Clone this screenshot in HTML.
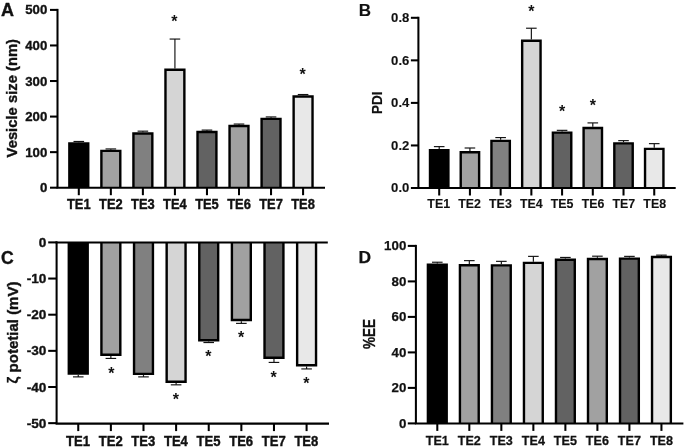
<!DOCTYPE html>
<html><head><meta charset="utf-8"><title>Figure</title>
<style>html,body{margin:0;padding:0;background:#fff;}svg{display:block}text{font-family:'Liberation Sans', Arial, Helvetica, sans-serif;fill:#111;stroke:#111;stroke-width:0.35px}.pB text{stroke-width:0.12px}.pD text{stroke-width:0.25px}</style>
</head><body>
<svg width="685" height="448" viewBox="0 0 685 448">
<rect width="685" height="448" fill="#fff"/>
<g class="pA">
<line x1="78.80" y1="142.18" x2="78.80" y2="141.47" stroke="#111" stroke-width="1.15"/>
<line x1="73.50" y1="141.47" x2="84.10" y2="141.47" stroke="#111" stroke-width="1.15"/>
<path d="M69.35 187.70L69.35 143.38L88.25 143.38L88.25 187.70" fill="#000000" stroke="#000" stroke-width="2.4" stroke-linejoin="miter"/>
<line x1="110.84" y1="149.65" x2="110.84" y2="148.94" stroke="#111" stroke-width="1.15"/>
<line x1="105.54" y1="148.94" x2="116.14" y2="148.94" stroke="#111" stroke-width="1.15"/>
<path d="M101.39 187.70L101.39 150.85L120.29 150.85L120.29 187.70" fill="#a1a1a1" stroke="#000" stroke-width="2.4" stroke-linejoin="miter"/>
<line x1="142.88" y1="132.23" x2="142.88" y2="131.16" stroke="#111" stroke-width="1.15"/>
<line x1="137.58" y1="131.16" x2="148.18" y2="131.16" stroke="#111" stroke-width="1.15"/>
<path d="M133.43 187.70L133.43 133.43L152.33 133.43L152.33 187.70" fill="#808080" stroke="#000" stroke-width="2.4" stroke-linejoin="miter"/>
<line x1="174.92" y1="68.57" x2="174.92" y2="39.06" stroke="#111" stroke-width="1.15"/>
<line x1="169.62" y1="39.06" x2="180.22" y2="39.06" stroke="#111" stroke-width="1.15"/>
<path d="M165.47 187.70L165.47 69.77L184.37 69.77L184.37 187.70" fill="#d5d5d5" stroke="#000" stroke-width="2.4" stroke-linejoin="miter"/>
<line x1="206.96" y1="130.80" x2="206.96" y2="130.09" stroke="#111" stroke-width="1.15"/>
<line x1="201.66" y1="130.09" x2="212.26" y2="130.09" stroke="#111" stroke-width="1.15"/>
<path d="M197.51 187.70L197.51 132.00L216.41 132.00L216.41 187.70" fill="#626262" stroke="#000" stroke-width="2.4" stroke-linejoin="miter"/>
<line x1="239.00" y1="124.76" x2="239.00" y2="124.05" stroke="#111" stroke-width="1.15"/>
<line x1="233.70" y1="124.05" x2="244.30" y2="124.05" stroke="#111" stroke-width="1.15"/>
<path d="M229.55 187.70L229.55 125.96L248.45 125.96L248.45 187.70" fill="#a1a1a1" stroke="#000" stroke-width="2.4" stroke-linejoin="miter"/>
<line x1="271.04" y1="117.65" x2="271.04" y2="116.94" stroke="#111" stroke-width="1.15"/>
<line x1="265.74" y1="116.94" x2="276.34" y2="116.94" stroke="#111" stroke-width="1.15"/>
<path d="M261.59 187.70L261.59 118.85L280.49 118.85L280.49 187.70" fill="#626262" stroke="#000" stroke-width="2.4" stroke-linejoin="miter"/>
<line x1="303.08" y1="95.24" x2="303.08" y2="94.53" stroke="#111" stroke-width="1.15"/>
<line x1="297.78" y1="94.53" x2="308.38" y2="94.53" stroke="#111" stroke-width="1.15"/>
<path d="M293.63 187.70L293.63 96.44L312.53 96.44L312.53 187.70" fill="#e8e8e8" stroke="#000" stroke-width="2.4" stroke-linejoin="miter"/>
<line x1="57.50" y1="8.88" x2="57.50" y2="187.70" stroke="#000" stroke-width="2.05"/>
<line x1="56.48" y1="187.70" x2="325.00" y2="187.70" stroke="#000" stroke-width="2.05"/>
<line x1="50.00" y1="187.70" x2="57.50" y2="187.70" stroke="#000" stroke-width="2.05"/>
<text x="47.30" y="192.20" font-size="13.2" font-weight="bold" text-anchor="end">0</text>
<line x1="50.00" y1="152.14" x2="57.50" y2="152.14" stroke="#000" stroke-width="2.05"/>
<text x="47.30" y="156.64" font-size="13.2" font-weight="bold" text-anchor="end">100</text>
<line x1="50.00" y1="116.58" x2="57.50" y2="116.58" stroke="#000" stroke-width="2.05"/>
<text x="47.30" y="121.08" font-size="13.2" font-weight="bold" text-anchor="end">200</text>
<line x1="50.00" y1="81.02" x2="57.50" y2="81.02" stroke="#000" stroke-width="2.05"/>
<text x="47.30" y="85.52" font-size="13.2" font-weight="bold" text-anchor="end">300</text>
<line x1="50.00" y1="45.46" x2="57.50" y2="45.46" stroke="#000" stroke-width="2.05"/>
<text x="47.30" y="49.96" font-size="13.2" font-weight="bold" text-anchor="end">400</text>
<line x1="50.00" y1="9.90" x2="57.50" y2="9.90" stroke="#000" stroke-width="2.05"/>
<text x="47.30" y="14.40" font-size="13.2" font-weight="bold" text-anchor="end">500</text>
<line x1="78.80" y1="187.70" x2="78.80" y2="195.20" stroke="#000" stroke-width="2.05"/>
<text x="78.80" y="209.50" font-size="12.9" font-weight="bold" text-anchor="middle" transform="translate(78.80 209.50) scale(1 1.07) translate(-78.80 -209.50)">TE1</text>
<line x1="110.84" y1="187.70" x2="110.84" y2="195.20" stroke="#000" stroke-width="2.05"/>
<text x="110.84" y="209.50" font-size="12.9" font-weight="bold" text-anchor="middle" transform="translate(110.84 209.50) scale(1 1.07) translate(-110.84 -209.50)">TE2</text>
<line x1="142.88" y1="187.70" x2="142.88" y2="195.20" stroke="#000" stroke-width="2.05"/>
<text x="142.88" y="209.50" font-size="12.9" font-weight="bold" text-anchor="middle" transform="translate(142.88 209.50) scale(1 1.07) translate(-142.88 -209.50)">TE3</text>
<line x1="174.92" y1="187.70" x2="174.92" y2="195.20" stroke="#000" stroke-width="2.05"/>
<text x="174.92" y="209.50" font-size="12.9" font-weight="bold" text-anchor="middle" transform="translate(174.92 209.50) scale(1 1.07) translate(-174.92 -209.50)">TE4</text>
<line x1="206.96" y1="187.70" x2="206.96" y2="195.20" stroke="#000" stroke-width="2.05"/>
<text x="206.96" y="209.50" font-size="12.9" font-weight="bold" text-anchor="middle" transform="translate(206.96 209.50) scale(1 1.07) translate(-206.96 -209.50)">TE5</text>
<line x1="239.00" y1="187.70" x2="239.00" y2="195.20" stroke="#000" stroke-width="2.05"/>
<text x="239.00" y="209.50" font-size="12.9" font-weight="bold" text-anchor="middle" transform="translate(239.00 209.50) scale(1 1.07) translate(-239.00 -209.50)">TE6</text>
<line x1="271.04" y1="187.70" x2="271.04" y2="195.20" stroke="#000" stroke-width="2.05"/>
<text x="271.04" y="209.50" font-size="12.9" font-weight="bold" text-anchor="middle" transform="translate(271.04 209.50) scale(1 1.07) translate(-271.04 -209.50)">TE7</text>
<line x1="303.08" y1="187.70" x2="303.08" y2="195.20" stroke="#000" stroke-width="2.05"/>
<text x="303.08" y="209.50" font-size="12.9" font-weight="bold" text-anchor="middle" transform="translate(303.08 209.50) scale(1 1.07) translate(-303.08 -209.50)">TE8</text>
<text x="174.42" y="26.86" font-size="16" font-weight="bold" text-anchor="middle" style="stroke:none">*</text>
<text x="302.58" y="80.16" font-size="16" font-weight="bold" text-anchor="middle" style="stroke:none">*</text>
<text x="16.80" y="98.20" font-size="14.8" font-weight="bold" text-anchor="middle" transform="rotate(-90 16.80 98.20)">Vesicle size (nm)</text>
<text x="1.00" y="15.60" font-size="18" font-weight="bold" text-anchor="start">A</text>
</g>
<g class="pB">
<line x1="439.20" y1="148.96" x2="439.20" y2="146.62" stroke="#111" stroke-width="1.15"/>
<line x1="433.90" y1="146.62" x2="444.50" y2="146.62" stroke="#111" stroke-width="1.15"/>
<path d="M430.00 188.00L430.00 150.16L448.40 150.16L448.40 188.00" fill="#000000" stroke="#000" stroke-width="2.4" stroke-linejoin="miter"/>
<line x1="469.92" y1="150.98" x2="469.92" y2="148.00" stroke="#111" stroke-width="1.15"/>
<line x1="464.62" y1="148.00" x2="475.22" y2="148.00" stroke="#111" stroke-width="1.15"/>
<path d="M460.72 188.00L460.72 152.18L479.12 152.18L479.12 188.00" fill="#a1a1a1" stroke="#000" stroke-width="2.4" stroke-linejoin="miter"/>
<line x1="500.64" y1="139.71" x2="500.64" y2="137.58" stroke="#111" stroke-width="1.15"/>
<line x1="495.34" y1="137.58" x2="505.94" y2="137.58" stroke="#111" stroke-width="1.15"/>
<path d="M491.44 188.00L491.44 140.91L509.84 140.91L509.84 188.00" fill="#808080" stroke="#000" stroke-width="2.4" stroke-linejoin="miter"/>
<line x1="531.36" y1="39.50" x2="531.36" y2="28.22" stroke="#111" stroke-width="1.15"/>
<line x1="526.06" y1="28.22" x2="536.66" y2="28.22" stroke="#111" stroke-width="1.15"/>
<path d="M522.16 188.00L522.16 40.70L540.56 40.70L540.56 188.00" fill="#d5d5d5" stroke="#000" stroke-width="2.4" stroke-linejoin="miter"/>
<line x1="562.08" y1="131.41" x2="562.08" y2="130.34" stroke="#111" stroke-width="1.15"/>
<line x1="556.78" y1="130.34" x2="567.38" y2="130.34" stroke="#111" stroke-width="1.15"/>
<path d="M552.88 188.00L552.88 132.61L571.28 132.61L571.28 188.00" fill="#626262" stroke="#000" stroke-width="2.4" stroke-linejoin="miter"/>
<line x1="592.80" y1="126.83" x2="592.80" y2="122.90" stroke="#111" stroke-width="1.15"/>
<line x1="587.50" y1="122.90" x2="598.10" y2="122.90" stroke="#111" stroke-width="1.15"/>
<path d="M583.60 188.00L583.60 128.03L602.00 128.03L602.00 188.00" fill="#a1a1a1" stroke="#000" stroke-width="2.4" stroke-linejoin="miter"/>
<line x1="623.52" y1="142.15" x2="623.52" y2="140.64" stroke="#111" stroke-width="1.15"/>
<line x1="618.22" y1="140.64" x2="628.82" y2="140.64" stroke="#111" stroke-width="1.15"/>
<path d="M614.32 188.00L614.32 143.35L632.72 143.35L632.72 188.00" fill="#626262" stroke="#000" stroke-width="2.4" stroke-linejoin="miter"/>
<line x1="654.24" y1="147.66" x2="654.24" y2="143.64" stroke="#111" stroke-width="1.15"/>
<line x1="648.94" y1="143.64" x2="659.54" y2="143.64" stroke="#111" stroke-width="1.15"/>
<path d="M645.04 188.00L645.04 148.86L663.44 148.86L663.44 188.00" fill="#e8e8e8" stroke="#000" stroke-width="2.4" stroke-linejoin="miter"/>
<line x1="418.40" y1="16.78" x2="418.40" y2="188.00" stroke="#000" stroke-width="2.05"/>
<line x1="417.38" y1="188.00" x2="675.70" y2="188.00" stroke="#000" stroke-width="2.05"/>
<line x1="410.90" y1="188.00" x2="418.40" y2="188.00" stroke="#000" stroke-width="2.05"/>
<text x="409.30" y="192.20" font-size="13.1" font-weight="bold" text-anchor="end">0.0</text>
<line x1="410.90" y1="145.45" x2="418.40" y2="145.45" stroke="#000" stroke-width="2.05"/>
<text x="409.30" y="149.65" font-size="13.1" font-weight="bold" text-anchor="end">0.2</text>
<line x1="410.90" y1="102.90" x2="418.40" y2="102.90" stroke="#000" stroke-width="2.05"/>
<text x="409.30" y="107.10" font-size="13.1" font-weight="bold" text-anchor="end">0.4</text>
<line x1="410.90" y1="60.35" x2="418.40" y2="60.35" stroke="#000" stroke-width="2.05"/>
<text x="409.30" y="64.55" font-size="13.1" font-weight="bold" text-anchor="end">0.6</text>
<line x1="410.90" y1="17.80" x2="418.40" y2="17.80" stroke="#000" stroke-width="2.05"/>
<text x="409.30" y="22.00" font-size="13.1" font-weight="bold" text-anchor="end">0.8</text>
<line x1="439.20" y1="188.00" x2="439.20" y2="195.50" stroke="#000" stroke-width="2.05"/>
<text x="438.70" y="208.50" font-size="12.4" font-weight="bold" text-anchor="middle" transform="translate(438.70 208.50) scale(1 1.07) translate(-438.70 -208.50)">TE1</text>
<line x1="469.92" y1="188.00" x2="469.92" y2="195.50" stroke="#000" stroke-width="2.05"/>
<text x="469.56" y="208.50" font-size="12.4" font-weight="bold" text-anchor="middle" transform="translate(469.56 208.50) scale(1 1.07) translate(-469.56 -208.50)">TE2</text>
<line x1="500.64" y1="188.00" x2="500.64" y2="195.50" stroke="#000" stroke-width="2.05"/>
<text x="500.42" y="208.50" font-size="12.4" font-weight="bold" text-anchor="middle" transform="translate(500.42 208.50) scale(1 1.07) translate(-500.42 -208.50)">TE3</text>
<line x1="531.36" y1="188.00" x2="531.36" y2="195.50" stroke="#000" stroke-width="2.05"/>
<text x="531.28" y="208.50" font-size="12.4" font-weight="bold" text-anchor="middle" transform="translate(531.28 208.50) scale(1 1.07) translate(-531.28 -208.50)">TE4</text>
<line x1="562.08" y1="188.00" x2="562.08" y2="195.50" stroke="#000" stroke-width="2.05"/>
<text x="562.14" y="208.50" font-size="12.4" font-weight="bold" text-anchor="middle" transform="translate(562.14 208.50) scale(1 1.07) translate(-562.14 -208.50)">TE5</text>
<line x1="592.80" y1="188.00" x2="592.80" y2="195.50" stroke="#000" stroke-width="2.05"/>
<text x="593.00" y="208.50" font-size="12.4" font-weight="bold" text-anchor="middle" transform="translate(593.00 208.50) scale(1 1.07) translate(-593.00 -208.50)">TE6</text>
<line x1="623.52" y1="188.00" x2="623.52" y2="195.50" stroke="#000" stroke-width="2.05"/>
<text x="623.86" y="208.50" font-size="12.4" font-weight="bold" text-anchor="middle" transform="translate(623.86 208.50) scale(1 1.07) translate(-623.86 -208.50)">TE7</text>
<line x1="654.24" y1="188.00" x2="654.24" y2="195.50" stroke="#000" stroke-width="2.05"/>
<text x="654.72" y="208.50" font-size="12.4" font-weight="bold" text-anchor="middle" transform="translate(654.72 208.50) scale(1 1.07) translate(-654.72 -208.50)">TE8</text>
<text x="531.36" y="16.56" font-size="16" font-weight="bold" text-anchor="middle" style="stroke:none">*</text>
<text x="562.08" y="117.16" font-size="16" font-weight="bold" text-anchor="middle" style="stroke:none">*</text>
<text x="592.80" y="110.66" font-size="16" font-weight="bold" text-anchor="middle" style="stroke:none">*</text>
<text x="381.90" y="102.70" font-size="13.5" font-weight="bold" text-anchor="middle" transform="translate(381.90 102.70) rotate(-90) scale(1 1.1) translate(-381.90 -102.70)">PDI</text>
<text x="358.70" y="15.60" font-size="17" font-weight="bold" text-anchor="start">B</text>
</g>
<g class="pC">
<line x1="78.25" y1="374.71" x2="78.25" y2="376.88" stroke="#111" stroke-width="1.15"/>
<line x1="72.95" y1="376.88" x2="83.55" y2="376.88" stroke="#111" stroke-width="1.15"/>
<path d="M68.80 242.40L68.80 373.51L87.70 373.51L87.70 242.40" fill="#000000" stroke="#000" stroke-width="2.4" stroke-linejoin="miter"/>
<line x1="110.87" y1="355.91" x2="110.87" y2="358.44" stroke="#111" stroke-width="1.15"/>
<line x1="105.57" y1="358.44" x2="116.17" y2="358.44" stroke="#111" stroke-width="1.15"/>
<path d="M101.42 242.40L101.42 354.71L120.32 354.71L120.32 242.40" fill="#a1a1a1" stroke="#000" stroke-width="2.4" stroke-linejoin="miter"/>
<line x1="143.49" y1="375.07" x2="143.49" y2="376.88" stroke="#111" stroke-width="1.15"/>
<line x1="138.19" y1="376.88" x2="148.79" y2="376.88" stroke="#111" stroke-width="1.15"/>
<path d="M134.04 242.40L134.04 373.87L152.94 373.87L152.94 242.40" fill="#808080" stroke="#000" stroke-width="2.4" stroke-linejoin="miter"/>
<line x1="176.11" y1="383.02" x2="176.11" y2="384.83" stroke="#111" stroke-width="1.15"/>
<line x1="170.81" y1="384.83" x2="181.41" y2="384.83" stroke="#111" stroke-width="1.15"/>
<path d="M166.66 242.40L166.66 381.82L185.56 381.82L185.56 242.40" fill="#d5d5d5" stroke="#000" stroke-width="2.4" stroke-linejoin="miter"/>
<line x1="208.73" y1="341.45" x2="208.73" y2="342.54" stroke="#111" stroke-width="1.15"/>
<line x1="203.43" y1="342.54" x2="214.03" y2="342.54" stroke="#111" stroke-width="1.15"/>
<path d="M199.28 242.40L199.28 340.25L218.18 340.25L218.18 242.40" fill="#626262" stroke="#000" stroke-width="2.4" stroke-linejoin="miter"/>
<line x1="241.35" y1="321.21" x2="241.35" y2="323.38" stroke="#111" stroke-width="1.15"/>
<line x1="236.05" y1="323.38" x2="246.65" y2="323.38" stroke="#111" stroke-width="1.15"/>
<path d="M231.90 242.40L231.90 320.01L250.80 320.01L250.80 242.40" fill="#a1a1a1" stroke="#000" stroke-width="2.4" stroke-linejoin="miter"/>
<line x1="273.97" y1="358.98" x2="273.97" y2="362.42" stroke="#111" stroke-width="1.15"/>
<line x1="268.67" y1="362.42" x2="279.27" y2="362.42" stroke="#111" stroke-width="1.15"/>
<path d="M264.52 242.40L264.52 357.78L283.42 357.78L283.42 242.40" fill="#626262" stroke="#000" stroke-width="2.4" stroke-linejoin="miter"/>
<line x1="306.59" y1="366.39" x2="306.59" y2="368.93" stroke="#111" stroke-width="1.15"/>
<line x1="301.29" y1="368.93" x2="311.89" y2="368.93" stroke="#111" stroke-width="1.15"/>
<path d="M297.14 242.40L297.14 365.19L316.04 365.19L316.04 242.40" fill="#e8e8e8" stroke="#000" stroke-width="2.4" stroke-linejoin="miter"/>
<line x1="56.60" y1="241.38" x2="56.60" y2="423.60" stroke="#000" stroke-width="2.05"/>
<line x1="55.58" y1="423.60" x2="329.00" y2="423.60" stroke="#000" stroke-width="2.05"/>
<line x1="55.58" y1="242.40" x2="327.80" y2="242.40" stroke="#000" stroke-width="2.05"/>
<line x1="48.20" y1="242.40" x2="56.60" y2="242.40" stroke="#000" stroke-width="2.05"/>
<text x="46.40" y="246.90" font-size="13.6" font-weight="bold" text-anchor="end">0</text>
<line x1="48.20" y1="278.55" x2="56.60" y2="278.55" stroke="#000" stroke-width="2.05"/>
<text x="46.40" y="283.05" font-size="13.6" font-weight="bold" text-anchor="end">-10</text>
<line x1="48.20" y1="314.70" x2="56.60" y2="314.70" stroke="#000" stroke-width="2.05"/>
<text x="46.40" y="319.20" font-size="13.6" font-weight="bold" text-anchor="end">-20</text>
<line x1="48.20" y1="350.85" x2="56.60" y2="350.85" stroke="#000" stroke-width="2.05"/>
<text x="46.40" y="355.35" font-size="13.6" font-weight="bold" text-anchor="end">-30</text>
<line x1="48.20" y1="387.00" x2="56.60" y2="387.00" stroke="#000" stroke-width="2.05"/>
<text x="46.40" y="391.50" font-size="13.6" font-weight="bold" text-anchor="end">-40</text>
<line x1="48.20" y1="423.15" x2="56.60" y2="423.15" stroke="#000" stroke-width="2.05"/>
<text x="46.40" y="427.65" font-size="13.6" font-weight="bold" text-anchor="end">-50</text>
<line x1="78.25" y1="423.60" x2="78.25" y2="431.10" stroke="#000" stroke-width="2.05"/>
<text x="78.05" y="445.70" font-size="13.1" font-weight="bold" text-anchor="middle" transform="translate(78.05 445.70) scale(1 1.07) translate(-78.05 -445.70)">TE1</text>
<line x1="110.87" y1="423.60" x2="110.87" y2="431.10" stroke="#000" stroke-width="2.05"/>
<text x="110.67" y="445.70" font-size="13.1" font-weight="bold" text-anchor="middle" transform="translate(110.67 445.70) scale(1 1.07) translate(-110.67 -445.70)">TE2</text>
<line x1="143.49" y1="423.60" x2="143.49" y2="431.10" stroke="#000" stroke-width="2.05"/>
<text x="143.29" y="445.70" font-size="13.1" font-weight="bold" text-anchor="middle" transform="translate(143.29 445.70) scale(1 1.07) translate(-143.29 -445.70)">TE3</text>
<line x1="176.11" y1="423.60" x2="176.11" y2="431.10" stroke="#000" stroke-width="2.05"/>
<text x="175.91" y="445.70" font-size="13.1" font-weight="bold" text-anchor="middle" transform="translate(175.91 445.70) scale(1 1.07) translate(-175.91 -445.70)">TE4</text>
<line x1="208.73" y1="423.60" x2="208.73" y2="431.10" stroke="#000" stroke-width="2.05"/>
<text x="208.53" y="445.70" font-size="13.1" font-weight="bold" text-anchor="middle" transform="translate(208.53 445.70) scale(1 1.07) translate(-208.53 -445.70)">TE5</text>
<line x1="241.35" y1="423.60" x2="241.35" y2="431.10" stroke="#000" stroke-width="2.05"/>
<text x="241.15" y="445.70" font-size="13.1" font-weight="bold" text-anchor="middle" transform="translate(241.15 445.70) scale(1 1.07) translate(-241.15 -445.70)">TE6</text>
<line x1="273.97" y1="423.60" x2="273.97" y2="431.10" stroke="#000" stroke-width="2.05"/>
<text x="273.77" y="445.70" font-size="13.1" font-weight="bold" text-anchor="middle" transform="translate(273.77 445.70) scale(1 1.07) translate(-273.77 -445.70)">TE7</text>
<line x1="306.59" y1="423.60" x2="306.59" y2="431.10" stroke="#000" stroke-width="2.05"/>
<text x="306.39" y="445.70" font-size="13.1" font-weight="bold" text-anchor="middle" transform="translate(306.39 445.70) scale(1 1.07) translate(-306.39 -445.70)">TE8</text>
<text x="111.32" y="378.56" font-size="16" font-weight="bold" text-anchor="middle" style="stroke:none">*</text>
<text x="175.86" y="405.16" font-size="16" font-weight="bold" text-anchor="middle" style="stroke:none">*</text>
<text x="208.48" y="361.76" font-size="16" font-weight="bold" text-anchor="middle" style="stroke:none">*</text>
<text x="241.10" y="343.16" font-size="16" font-weight="bold" text-anchor="middle" style="stroke:none">*</text>
<text x="273.72" y="383.16" font-size="16" font-weight="bold" text-anchor="middle" style="stroke:none">*</text>
<text x="306.34" y="388.86" font-size="16" font-weight="bold" text-anchor="middle" style="stroke:none">*</text>
<text x="18.20" y="332.50" font-size="15.0" font-weight="bold" text-anchor="middle" transform="rotate(-90 18.20 332.50)">ζ potetial (mV)</text>
<text x="1.00" y="264.20" font-size="17.6" font-weight="bold" text-anchor="start">C</text>
</g>
<g class="pD">
<line x1="437.30" y1="263.47" x2="437.30" y2="262.23" stroke="#111" stroke-width="1.15"/>
<line x1="432.00" y1="262.23" x2="442.60" y2="262.23" stroke="#111" stroke-width="1.15"/>
<path d="M427.90 423.40L427.90 264.67L446.70 264.67L446.70 423.40" fill="#000000" stroke="#000" stroke-width="2.4" stroke-linejoin="miter"/>
<line x1="469.32" y1="264.00" x2="469.32" y2="260.63" stroke="#111" stroke-width="1.15"/>
<line x1="464.02" y1="260.63" x2="474.62" y2="260.63" stroke="#111" stroke-width="1.15"/>
<path d="M459.92 423.40L459.92 265.20L478.72 265.20L478.72 423.40" fill="#a1a1a1" stroke="#000" stroke-width="2.4" stroke-linejoin="miter"/>
<line x1="501.34" y1="264.18" x2="501.34" y2="261.34" stroke="#111" stroke-width="1.15"/>
<line x1="496.04" y1="261.34" x2="506.64" y2="261.34" stroke="#111" stroke-width="1.15"/>
<path d="M491.94 423.40L491.94 265.38L510.74 265.38L510.74 423.40" fill="#808080" stroke="#000" stroke-width="2.4" stroke-linejoin="miter"/>
<line x1="533.36" y1="261.70" x2="533.36" y2="256.37" stroke="#111" stroke-width="1.15"/>
<line x1="528.06" y1="256.37" x2="538.66" y2="256.37" stroke="#111" stroke-width="1.15"/>
<path d="M523.96 423.40L523.96 262.90L542.76 262.90L542.76 423.40" fill="#d5d5d5" stroke="#000" stroke-width="2.4" stroke-linejoin="miter"/>
<line x1="565.38" y1="258.50" x2="565.38" y2="257.44" stroke="#111" stroke-width="1.15"/>
<line x1="560.08" y1="257.44" x2="570.68" y2="257.44" stroke="#111" stroke-width="1.15"/>
<path d="M555.98 423.40L555.98 259.70L574.78 259.70L574.78 423.40" fill="#626262" stroke="#000" stroke-width="2.4" stroke-linejoin="miter"/>
<line x1="597.40" y1="257.79" x2="597.40" y2="256.19" stroke="#111" stroke-width="1.15"/>
<line x1="592.10" y1="256.19" x2="602.70" y2="256.19" stroke="#111" stroke-width="1.15"/>
<path d="M588.00 423.40L588.00 258.99L606.80 258.99L606.80 423.40" fill="#a1a1a1" stroke="#000" stroke-width="2.4" stroke-linejoin="miter"/>
<line x1="629.42" y1="257.44" x2="629.42" y2="256.37" stroke="#111" stroke-width="1.15"/>
<line x1="624.12" y1="256.37" x2="634.72" y2="256.37" stroke="#111" stroke-width="1.15"/>
<path d="M620.02 423.40L620.02 258.64L638.82 258.64L638.82 423.40" fill="#626262" stroke="#000" stroke-width="2.4" stroke-linejoin="miter"/>
<line x1="661.44" y1="255.84" x2="661.44" y2="255.13" stroke="#111" stroke-width="1.15"/>
<line x1="656.14" y1="255.13" x2="666.74" y2="255.13" stroke="#111" stroke-width="1.15"/>
<path d="M652.04 423.40L652.04 257.04L670.84 257.04L670.84 423.40" fill="#e8e8e8" stroke="#000" stroke-width="2.4" stroke-linejoin="miter"/>
<line x1="415.90" y1="244.88" x2="415.90" y2="423.40" stroke="#000" stroke-width="2.05"/>
<line x1="414.88" y1="423.40" x2="683.40" y2="423.40" stroke="#000" stroke-width="2.05"/>
<line x1="407.80" y1="423.40" x2="415.90" y2="423.40" stroke="#000" stroke-width="2.05"/>
<text x="406.30" y="427.70" font-size="13.3" font-weight="bold" text-anchor="end">0</text>
<line x1="407.80" y1="387.90" x2="415.90" y2="387.90" stroke="#000" stroke-width="2.05"/>
<text x="406.30" y="392.20" font-size="13.3" font-weight="bold" text-anchor="end">20</text>
<line x1="407.80" y1="352.40" x2="415.90" y2="352.40" stroke="#000" stroke-width="2.05"/>
<text x="406.30" y="356.70" font-size="13.3" font-weight="bold" text-anchor="end">40</text>
<line x1="407.80" y1="316.90" x2="415.90" y2="316.90" stroke="#000" stroke-width="2.05"/>
<text x="406.30" y="321.20" font-size="13.3" font-weight="bold" text-anchor="end">60</text>
<line x1="407.80" y1="281.40" x2="415.90" y2="281.40" stroke="#000" stroke-width="2.05"/>
<text x="406.30" y="285.70" font-size="13.3" font-weight="bold" text-anchor="end">80</text>
<line x1="407.80" y1="245.90" x2="415.90" y2="245.90" stroke="#000" stroke-width="2.05"/>
<text x="406.30" y="250.20" font-size="13.3" font-weight="bold" text-anchor="end">100</text>
<line x1="437.30" y1="423.40" x2="437.30" y2="430.90" stroke="#000" stroke-width="2.05"/>
<text x="437.30" y="445.10" font-size="12.6" font-weight="bold" text-anchor="middle" transform="translate(437.30 445.10) scale(1 1.07) translate(-437.30 -445.10)">TE1</text>
<line x1="469.32" y1="423.40" x2="469.32" y2="430.90" stroke="#000" stroke-width="2.05"/>
<text x="469.32" y="445.10" font-size="12.6" font-weight="bold" text-anchor="middle" transform="translate(469.32 445.10) scale(1 1.07) translate(-469.32 -445.10)">TE2</text>
<line x1="501.34" y1="423.40" x2="501.34" y2="430.90" stroke="#000" stroke-width="2.05"/>
<text x="501.34" y="445.10" font-size="12.6" font-weight="bold" text-anchor="middle" transform="translate(501.34 445.10) scale(1 1.07) translate(-501.34 -445.10)">TE3</text>
<line x1="533.36" y1="423.40" x2="533.36" y2="430.90" stroke="#000" stroke-width="2.05"/>
<text x="533.36" y="445.10" font-size="12.6" font-weight="bold" text-anchor="middle" transform="translate(533.36 445.10) scale(1 1.07) translate(-533.36 -445.10)">TE4</text>
<line x1="565.38" y1="423.40" x2="565.38" y2="430.90" stroke="#000" stroke-width="2.05"/>
<text x="565.38" y="445.10" font-size="12.6" font-weight="bold" text-anchor="middle" transform="translate(565.38 445.10) scale(1 1.07) translate(-565.38 -445.10)">TE5</text>
<line x1="597.40" y1="423.40" x2="597.40" y2="430.90" stroke="#000" stroke-width="2.05"/>
<text x="597.40" y="445.10" font-size="12.6" font-weight="bold" text-anchor="middle" transform="translate(597.40 445.10) scale(1 1.07) translate(-597.40 -445.10)">TE6</text>
<line x1="629.42" y1="423.40" x2="629.42" y2="430.90" stroke="#000" stroke-width="2.05"/>
<text x="629.42" y="445.10" font-size="12.6" font-weight="bold" text-anchor="middle" transform="translate(629.42 445.10) scale(1 1.07) translate(-629.42 -445.10)">TE7</text>
<line x1="661.44" y1="423.40" x2="661.44" y2="430.90" stroke="#000" stroke-width="2.05"/>
<text x="661.44" y="445.10" font-size="12.6" font-weight="bold" text-anchor="middle" transform="translate(661.44 445.10) scale(1 1.07) translate(-661.44 -445.10)">TE8</text>
<text x="375.30" y="334.00" font-size="13.5" font-weight="bold" text-anchor="middle" transform="translate(375.30 334.00) rotate(-90) scale(1 1.22) translate(-375.30 -334.00)">%EE</text>
<text x="358.50" y="263.10" font-size="17.4" font-weight="bold" text-anchor="start">D</text>
</g>
</svg>
</body></html>
